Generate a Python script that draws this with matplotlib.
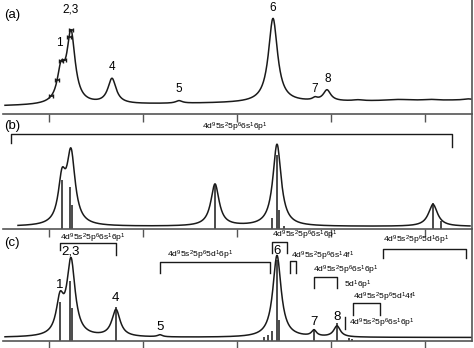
import numpy as np
import matplotlib.pyplot as plt

plt.rcParams['font.family'] = ['Liberation Sans', 'DejaVu Sans']
plt.rcParams['mathtext.fontset'] = 'custom'
plt.rcParams['mathtext.rm'] = 'Liberation Sans'
plt.rcParams['mathtext.default'] = 'regular'

# unlabelled energy axis, same scale in all three panels
ticks = [49, 143, 237, 331, 425]

a_pos = [61, 71, 112, 179, 273, 315, 327, 358, 398, 430, 468]
a_amp = [30, 70, 25, 2.5, 84, 2.5, 11, 1.0, 1.2, 0.8, 1.0]
a_fwhm = [9, 10, 10, 8, 11, 6, 9, 12, 30, 14, 10]
a_base = [8, 14]
a_err_x = [51, 57, 61, 64, 69, 71]
a_names = ['1', '2,3', '4', '5', '6', '7', '8']
a_name_x = [59, 71, 112, 179, 273, 315, 328]

# (b) calculated, 4d9 5s2 5p6 6s1 6p1 only
b_pos = [62, 71, 215, 277, 433]
b_amp = [42, 70, 42, 82, 22]
b_fwhm = [9, 10, 10, 10, 11]
b_base = 2.5
b_stick_x = [62, 70, 72, 215, 272, 277, 279, 284, 433, 441]
b_stick_h = [49, 42, 24, 44, 11, 74, 19, 3, 26, 8]

# (c) calculated, all configurations
c_pos = [60, 71, 116, 160, 277, 314, 337]
c_amp = [33, 75, 27, 2, 82, 6, 11]
c_fwhm = [9, 10, 10, 6, 10, 6, 8]
c_base = 3.5
c_stick_x = [60, 70, 72, 116, 264, 268, 272, 277, 279, 314, 337, 349, 352]
c_stick_h = [39, 60, 33, 34, 4, 6, 10, 81, 21, 12, 18, 3, 2]
c_names = ['1', '2,3', '4', '5', '6', '7', '8']
c_name_xy = [(60, 285), (71, 251), (115, 298), (160, 327), (277, 251), (314, 322), (337, 317)]

cfg_66 = r'4d$^9$5s$^2$5p$^6$6s$^1$6p$^1$'
cfg_56 = r'4d$^9$5s$^2$5p$^6$5d$^1$6p$^1$'
cfg_64 = r'4d$^9$5s$^2$5p$^6$6s$^1$4f$^1$'
cfg_54 = r'4d$^9$5s$^2$5p$^6$5d$^1$4f$^1$'

# brackets in (c): x left, x right, configuration
c_br_x0 = [60, 160, 272, 290, 314, 353, 383]
c_br_x1 = [116, 270, 287, 296, 337, 380, 466]
c_br_cfg = [cfg_66, cfg_56, cfg_66, cfg_64, cfg_66, cfg_54, cfg_56]
c_br_top = [243, 262, 242, 261, 277, 303, 249]
c_br_leg = [(250, 255), (273, 273), (253, 253), (273, 273), (288, 288), (315, 315), (258, 258)]
c_br_txt = [(60, 238), (200, 255), (272, 235), (291, 256), (313, 270), (353, 297), (383, 240)]


def lorentz(x, pos, amp, fwhm):
    y = np.zeros_like(x)
    for p, a, w in zip(pos, amp, fwhm):
        y += a * (w / 2) ** 2 / ((x - p) ** 2 + (w / 2) ** 2)
    return y


W, H = 474, 348
fig = plt.figure(figsize=(W / 100, H / 100), dpi=100)
ink = '#1a1a1a'
spine_c = '#555555'
cfs = 6.1

# panel extents in pixels (top, bottom)
panels = [(0, 114), (114, 229), (229, 341)]
axes = []
for top, bot in panels:
    ax = fig.add_axes([3 / W, (H - bot) / H, 469 / W, (bot - top) / H])
    ax.set_xlim(3, 472)
    ax.set_ylim(0, bot - top)
    for s in ['top', 'left']:
        ax.spines[s].set_visible(False)
    for s in ['bottom', 'right']:
        ax.spines[s].set_color(spine_c)
        ax.spines[s].set_linewidth(1.2)
    ax.set_xticks(ticks)
    ax.set_yticks([])
    ax.tick_params(axis='x', direction='out', length=6, width=1, color=spine_c, labelbottom=False)
    ax.patch.set_alpha(0)
    axes.append(ax)

axa, axb, axc = axes


def py(bot, ypix):
    return bot - ypix


# ---- (a)
x = np.linspace(5, 471, 1200)
ya = np.interp(x, [3, 472], a_base) + lorentz(x, a_pos, a_amp, a_fwhm)
axa.plot(x, ya, color=ink, lw=1.1)
ex = np.array(a_err_x, dtype=float)
ey = np.interp(ex, x, ya)
axa.errorbar(ex, ey, xerr=1.8, fmt='none', ecolor=ink, elinewidth=1.2, capsize=1.5, capthick=1)
axa.text(4, py(114, 15), '(a)', fontsize=9.5, va='center', ha='left')
a_name_y = [43, 9, 67, 89, 8, 89, 79]
for s, xx, yy in zip(a_names, a_name_x, a_name_y):
    axa.text(xx, py(114, yy), s, fontsize=8.5, ha='center', va='center')

# ---- (b)
xb = np.linspace(18, 470, 1200)
yb = b_base + lorentz(xb, b_pos, b_amp, b_fwhm)
axb.plot(xb, yb, color=ink, lw=1.1)
axb.vlines(b_stick_x, 0, b_stick_h, color=ink, lw=1.1)
axb.text(4, py(229, 126), '(b)', fontsize=9.5, va='center', ha='left')
axb.plot([11, 11, 452, 452], [py(229, 143), py(229, 134), py(229, 134), py(229, 147)],
         color=ink, lw=1)
axb.text(235, py(229, 127), cfg_66, fontsize=cfs, ha='center', va='center')

# ---- (c)
xc = np.linspace(5, 471, 1200)
yc = c_base + lorentz(xc, c_pos, c_amp, c_fwhm)
axc.plot(xc, yc, color=ink, lw=1.1)
axc.vlines(c_stick_x, 0, c_stick_h, color=ink, lw=1.1)
axc.text(4, py(341, 243), '(c)', fontsize=9.5, va='center', ha='left')
for s, (xx, yy) in zip(c_names, c_name_xy):
    axc.text(xx, py(341, yy), s, fontsize=9.5, ha='center', va='center')
for x0, x1, cfg, t, (l0, l1), (tx, ty) in zip(c_br_x0, c_br_x1, c_br_cfg, c_br_top, c_br_leg, c_br_txt):
    axc.plot([x0, x0, x1, x1], [py(341, l0), py(341, t), py(341, t), py(341, l1)], color=ink, lw=1)
    ha = 'center' if tx == 200 else 'left'
    axc.text(tx, py(341, ty), cfg, fontsize=cfs, ha=ha, va='center')
axc.text(344, py(341, 285), r'5d$^1$6p$^1$', fontsize=cfs, ha='left', va='center')
axc.plot([345, 345], [py(341, 329), py(341, 317)], color=ink, lw=1)
axc.text(349, py(341, 323), cfg_66, fontsize=cfs, ha='left', va='center')

fig.savefig('out.png', dpi=100)
